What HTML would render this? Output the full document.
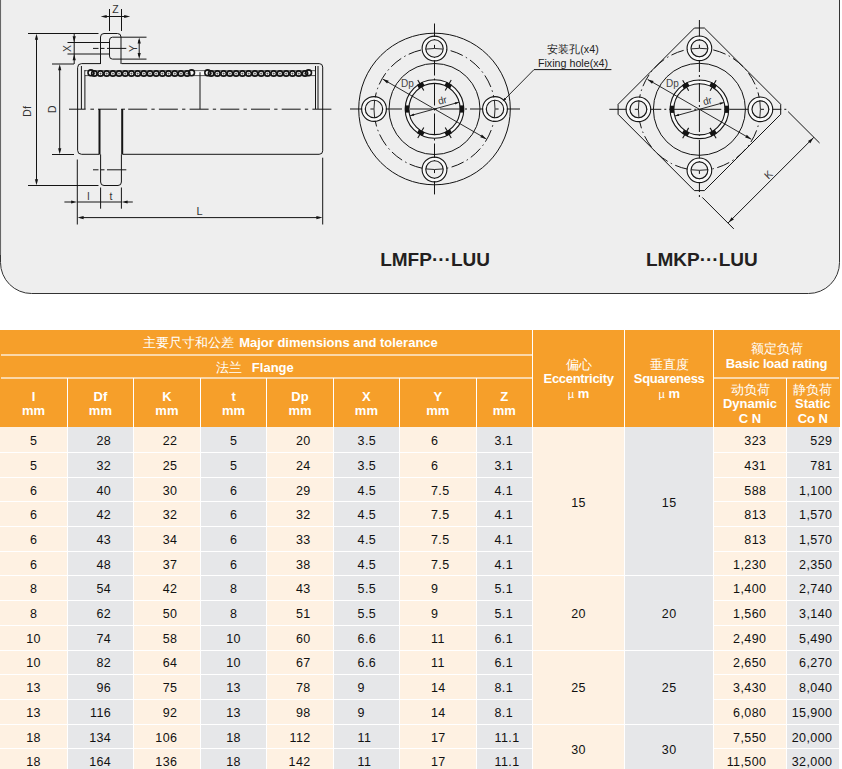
<!DOCTYPE html>
<html><head><meta charset="utf-8">
<style>
html,body{margin:0;padding:0;background:#fff;}
body{width:842px;height:769px;position:relative;overflow:hidden;font-family:"Liberation Sans",sans-serif;}
.b{position:absolute;}
.hl{position:absolute;height:1px;background:#fff;}
.hh{position:absolute;height:1.5px;background:rgba(255,255,255,0.6);}
.vl{position:absolute;width:1px;background:#fff;}
.t{position:absolute;font-size:12.5px;line-height:16px;color:#111;white-space:nowrap;letter-spacing:0.4px;}
.t.c{width:80px;text-align:center;}
.t.r{width:80px;text-align:right;}
.ht{position:absolute;font-size:13px;line-height:16px;color:#fff;font-weight:bold;}
.hc{position:absolute;width:80px;text-align:center;font-size:13px;line-height:14.3px;color:#fff;font-weight:bold;white-space:nowrap;}
.cj{font-weight:normal;font-size:12.9px;}
svg{position:absolute;left:0;top:0;}
</style></head><body>
<svg width="842" height="300" viewBox="0 0 842 300" style="font-family:&quot;Liberation Sans&quot;, sans-serif">
<path d="M0.5,-10 V262.5 A31,31 0 0 0 31.5,293.5 H808.5 A31,31 0 0 0 839.5,262.5 V-10" fill="#EEEEEE" stroke="#333" stroke-width="1"/>
<path d="M0.5,-10 V255" stroke="#666" stroke-width="1.1" fill="none"/>
<path d="M109.50,9.00 L109.50,31.00" stroke="#141414" stroke-width="1" fill="none" />
<path d="M121.50,9.00 L121.50,31.00" stroke="#141414" stroke-width="1" fill="none" />
<path d="M103.00,16.50 L128.00,16.50" stroke="#141414" stroke-width="1" fill="none" />
<path d="M100.70,16.50 L106.70,14.90 L106.70,18.10 Z" fill="#141414" stroke="none"/>
<path d="M130.20,16.50 L124.20,18.10 L124.20,14.90 Z" fill="#141414" stroke="none"/>
<text x="115.50" y="9.20" font-size="10.5" fill="#333" text-anchor="middle" font-weight="normal" dominant-baseline="central">Z</text>
<path d="M28.00,33.50 L98.50,33.50" stroke="#141414" stroke-width="1" fill="none" />
<path d="M28.00,185.50 L98.50,185.50" stroke="#141414" stroke-width="1" fill="none" />
<path d="M36.50,37.00 L36.50,182.00" stroke="#141414" stroke-width="1" fill="none" />
<path d="M36.50,33.80 L38.10,39.80 L34.90,39.80 Z" fill="#141414" stroke="none"/>
<path d="M36.50,185.20 L34.90,179.20 L38.10,179.20 Z" fill="#141414" stroke="none"/>
<text x="26.80" y="111.50" font-size="10.8" fill="#333" text-anchor="middle" font-weight="normal" dominant-baseline="central" transform="rotate(-90 26.80 111.50)">Df</text>
<path d="M52.00,64.00 L74.00,64.00" stroke="#141414" stroke-width="1" fill="none" />
<path d="M52.00,154.50 L74.00,154.50" stroke="#141414" stroke-width="1" fill="none" />
<path d="M59.70,67.00 L59.70,151.00" stroke="#141414" stroke-width="1" fill="none" />
<path d="M59.70,64.30 L61.30,70.30 L58.10,70.30 Z" fill="#141414" stroke="none"/>
<path d="M59.70,154.20 L58.10,148.20 L61.30,148.20 Z" fill="#141414" stroke="none"/>
<text x="52.00" y="109.20" font-size="10.5" fill="#333" text-anchor="middle" font-weight="normal" dominant-baseline="central" transform="rotate(-90 52.00 109.20)">D</text>
<path d="M67.50,42.50 L109.50,42.50" stroke="#141414" stroke-width="1" fill="none" />
<path d="M67.50,54.00 L109.50,54.00" stroke="#141414" stroke-width="1" fill="none" />
<path d="M74.20,33.50 L74.20,64.00" stroke="#141414" stroke-width="1" fill="none" />
<path d="M74.20,42.30 L72.60,36.30 L75.80,36.30 Z" fill="#141414" stroke="none"/>
<path d="M74.20,54.20 L75.80,60.20 L72.60,60.20 Z" fill="#141414" stroke="none"/>
<text x="66.80" y="48.40" font-size="10.5" fill="#333" text-anchor="middle" font-weight="normal" dominant-baseline="central" transform="rotate(-90 66.80 48.40)">X</text>
<path d="M121.00,37.20 L146.50,37.20" stroke="#141414" stroke-width="1" fill="none" />
<path d="M121.00,59.10 L146.50,59.10" stroke="#141414" stroke-width="1" fill="none" />
<path d="M139.20,40.00 L139.20,56.00" stroke="#141414" stroke-width="1" fill="none" />
<path d="M139.20,37.40 L140.80,43.40 L137.60,43.40 Z" fill="#141414" stroke="none"/>
<path d="M139.20,58.90 L137.60,52.90 L140.80,52.90 Z" fill="#141414" stroke="none"/>
<text x="132.80" y="48.40" font-size="10.5" fill="#333" text-anchor="middle" font-weight="normal" dominant-baseline="central" transform="rotate(-90 132.80 48.40)">Y</text>
<path d="M100.5,64 V37 Q100.5,33.5 104,33.5 H117.5 Q121,33.5 121,37 V64" stroke="#141414" stroke-width="1" fill="none"/>
<path d="M121,37.2 H112.5 Q109.5,37.2 109.5,40.2 V56.1 Q109.5,59.1 112.5,59.1 H121" stroke="#141414" stroke-width="1" fill="none"/>
<path d="M93,48.4 H98.5 M101,48.4 H104.5 M107,48.4 H126.3" stroke="#141414" stroke-width="1" fill="none"/>
<path d="M100.6,154.3 V182 Q100.6,185.5 104,185.5 H118 Q121.4,185.5 121.4,182 V154.3" stroke="#141414" stroke-width="1" fill="none"/>
<path d="M99.50,109.00 L99.50,154.30" stroke="#141414" stroke-width="2" fill="none" />
<path d="M122.20,109.00 L122.20,154.30" stroke="#141414" stroke-width="2" fill="none" />
<path d="M93,169.8 H98.5 M101,169.8 H104.5 M107,169.8 H126.3" stroke="#141414" stroke-width="1" fill="none"/>
<path d="M100.5,63.6 H81.6 Q77.6,63.6 77.6,67.6 V150.3 Q77.6,154.3 81.6,154.3 H99.5" stroke="#141414" stroke-width="1" fill="none"/>
<path d="M121.5,63.6 H319.2 Q322.7,63.6 322.7,67.1 V150.8 Q322.7,154.3 319.2,154.3 H122.5" stroke="#141414" stroke-width="1" fill="none"/>
<path d="M81.40,66.00 L81.40,109.00" stroke="#141414" stroke-width="1" fill="none" />
<path d="M84.90,70.00 L84.90,109.00" stroke="#141414" stroke-width="1" fill="none" />
<path d="M315.50,66.00 L315.50,109.00" stroke="#141414" stroke-width="1" fill="none" />
<path d="M318.00,66.00 L318.00,109.00" stroke="#141414" stroke-width="1" fill="none" />
<path d="M69,109.2 H85.7 M90.4,109.2 H94 M98,109.2 H117 M121.3,109.2 H125 M128.2,109.2 H331.6" stroke="#141414" stroke-width="1" fill="none" stroke-dasharray="19 4.2 3.3 4.2"/>
<path d="M84.9,70.8 H315 M84.9,75.6 H315" stroke="#141414" stroke-width="0.8" fill="none"/>
<rect x="85.5" y="71.3" width="229" height="3.8" fill="#f8f8f8"/>
<path d="M200.00,72.20 L200.00,109.20" stroke="#141414" stroke-width="1" fill="none" />
<circle cx="94.30" cy="73.60" r="2.70" stroke="#141414" stroke-width="1.6" fill="none" />
<path d="M93.10,73.60 H95.50 M94.30,72.40 V74.80" stroke="#141414" stroke-width="0.5"/>
<circle cx="100.49" cy="73.60" r="2.70" stroke="#141414" stroke-width="1.6" fill="none" />
<path d="M99.29,73.60 H101.69 M100.49,72.40 V74.80" stroke="#141414" stroke-width="0.5"/>
<circle cx="106.68" cy="73.60" r="2.70" stroke="#141414" stroke-width="1.6" fill="none" />
<path d="M105.48,73.60 H107.88 M106.68,72.40 V74.80" stroke="#141414" stroke-width="0.5"/>
<circle cx="112.87" cy="73.60" r="2.70" stroke="#141414" stroke-width="1.6" fill="none" />
<path d="M111.67,73.60 H114.07 M112.87,72.40 V74.80" stroke="#141414" stroke-width="0.5"/>
<circle cx="119.06" cy="73.60" r="2.70" stroke="#141414" stroke-width="1.6" fill="none" />
<path d="M117.86,73.60 H120.26 M119.06,72.40 V74.80" stroke="#141414" stroke-width="0.5"/>
<circle cx="125.25" cy="73.60" r="2.70" stroke="#141414" stroke-width="1.6" fill="none" />
<path d="M124.05,73.60 H126.45 M125.25,72.40 V74.80" stroke="#141414" stroke-width="0.5"/>
<circle cx="131.44" cy="73.60" r="2.70" stroke="#141414" stroke-width="1.6" fill="none" />
<path d="M130.24,73.60 H132.64 M131.44,72.40 V74.80" stroke="#141414" stroke-width="0.5"/>
<circle cx="137.63" cy="73.60" r="2.70" stroke="#141414" stroke-width="1.6" fill="none" />
<path d="M136.43,73.60 H138.83 M137.63,72.40 V74.80" stroke="#141414" stroke-width="0.5"/>
<circle cx="143.82" cy="73.60" r="2.70" stroke="#141414" stroke-width="1.6" fill="none" />
<path d="M142.62,73.60 H145.02 M143.82,72.40 V74.80" stroke="#141414" stroke-width="0.5"/>
<circle cx="150.01" cy="73.60" r="2.70" stroke="#141414" stroke-width="1.6" fill="none" />
<path d="M148.81,73.60 H151.21 M150.01,72.40 V74.80" stroke="#141414" stroke-width="0.5"/>
<circle cx="156.20" cy="73.60" r="2.70" stroke="#141414" stroke-width="1.6" fill="none" />
<path d="M155.00,73.60 H157.40 M156.20,72.40 V74.80" stroke="#141414" stroke-width="0.5"/>
<circle cx="162.39" cy="73.60" r="2.70" stroke="#141414" stroke-width="1.6" fill="none" />
<path d="M161.19,73.60 H163.59 M162.39,72.40 V74.80" stroke="#141414" stroke-width="0.5"/>
<circle cx="168.58" cy="73.60" r="2.70" stroke="#141414" stroke-width="1.6" fill="none" />
<path d="M167.38,73.60 H169.78 M168.58,72.40 V74.80" stroke="#141414" stroke-width="0.5"/>
<circle cx="174.77" cy="73.60" r="2.70" stroke="#141414" stroke-width="1.6" fill="none" />
<path d="M173.57,73.60 H175.97 M174.77,72.40 V74.80" stroke="#141414" stroke-width="0.5"/>
<circle cx="180.96" cy="73.60" r="2.70" stroke="#141414" stroke-width="1.6" fill="none" />
<path d="M179.76,73.60 H182.16 M180.96,72.40 V74.80" stroke="#141414" stroke-width="0.5"/>
<circle cx="187.15" cy="73.60" r="2.70" stroke="#141414" stroke-width="1.6" fill="none" />
<path d="M185.95,73.60 H188.35 M187.15,72.40 V74.80" stroke="#141414" stroke-width="0.5"/>
<circle cx="90.90" cy="72.80" r="2.90" stroke="#141414" stroke-width="1.6" fill="none" />
<circle cx="191.60" cy="72.80" r="2.90" stroke="#141414" stroke-width="1.6" fill="none" />
<circle cx="211.10" cy="73.60" r="2.70" stroke="#141414" stroke-width="1.6" fill="none" />
<path d="M209.90,73.60 H212.30 M211.10,72.40 V74.80" stroke="#141414" stroke-width="0.5"/>
<circle cx="217.36" cy="73.60" r="2.70" stroke="#141414" stroke-width="1.6" fill="none" />
<path d="M216.16,73.60 H218.56 M217.36,72.40 V74.80" stroke="#141414" stroke-width="0.5"/>
<circle cx="223.62" cy="73.60" r="2.70" stroke="#141414" stroke-width="1.6" fill="none" />
<path d="M222.42,73.60 H224.82 M223.62,72.40 V74.80" stroke="#141414" stroke-width="0.5"/>
<circle cx="229.88" cy="73.60" r="2.70" stroke="#141414" stroke-width="1.6" fill="none" />
<path d="M228.68,73.60 H231.08 M229.88,72.40 V74.80" stroke="#141414" stroke-width="0.5"/>
<circle cx="236.14" cy="73.60" r="2.70" stroke="#141414" stroke-width="1.6" fill="none" />
<path d="M234.94,73.60 H237.34 M236.14,72.40 V74.80" stroke="#141414" stroke-width="0.5"/>
<circle cx="242.40" cy="73.60" r="2.70" stroke="#141414" stroke-width="1.6" fill="none" />
<path d="M241.20,73.60 H243.60 M242.40,72.40 V74.80" stroke="#141414" stroke-width="0.5"/>
<circle cx="248.66" cy="73.60" r="2.70" stroke="#141414" stroke-width="1.6" fill="none" />
<path d="M247.46,73.60 H249.86 M248.66,72.40 V74.80" stroke="#141414" stroke-width="0.5"/>
<circle cx="254.92" cy="73.60" r="2.70" stroke="#141414" stroke-width="1.6" fill="none" />
<path d="M253.72,73.60 H256.12 M254.92,72.40 V74.80" stroke="#141414" stroke-width="0.5"/>
<circle cx="261.18" cy="73.60" r="2.70" stroke="#141414" stroke-width="1.6" fill="none" />
<path d="M259.98,73.60 H262.38 M261.18,72.40 V74.80" stroke="#141414" stroke-width="0.5"/>
<circle cx="267.44" cy="73.60" r="2.70" stroke="#141414" stroke-width="1.6" fill="none" />
<path d="M266.24,73.60 H268.64 M267.44,72.40 V74.80" stroke="#141414" stroke-width="0.5"/>
<circle cx="273.70" cy="73.60" r="2.70" stroke="#141414" stroke-width="1.6" fill="none" />
<path d="M272.50,73.60 H274.90 M273.70,72.40 V74.80" stroke="#141414" stroke-width="0.5"/>
<circle cx="279.96" cy="73.60" r="2.70" stroke="#141414" stroke-width="1.6" fill="none" />
<path d="M278.76,73.60 H281.16 M279.96,72.40 V74.80" stroke="#141414" stroke-width="0.5"/>
<circle cx="286.22" cy="73.60" r="2.70" stroke="#141414" stroke-width="1.6" fill="none" />
<path d="M285.02,73.60 H287.42 M286.22,72.40 V74.80" stroke="#141414" stroke-width="0.5"/>
<circle cx="292.48" cy="73.60" r="2.70" stroke="#141414" stroke-width="1.6" fill="none" />
<path d="M291.28,73.60 H293.68 M292.48,72.40 V74.80" stroke="#141414" stroke-width="0.5"/>
<circle cx="298.74" cy="73.60" r="2.70" stroke="#141414" stroke-width="1.6" fill="none" />
<path d="M297.54,73.60 H299.94 M298.74,72.40 V74.80" stroke="#141414" stroke-width="0.5"/>
<circle cx="305.00" cy="73.60" r="2.70" stroke="#141414" stroke-width="1.6" fill="none" />
<path d="M303.80,73.60 H306.20 M305.00,72.40 V74.80" stroke="#141414" stroke-width="0.5"/>
<circle cx="207.70" cy="72.80" r="2.90" stroke="#141414" stroke-width="1.6" fill="none" />
<circle cx="308.60" cy="72.80" r="2.90" stroke="#141414" stroke-width="1.6" fill="none" />
<path d="M77.30,159.50 L77.30,224.50" stroke="#141414" stroke-width="1" fill="none" />
<path d="M322.70,157.70 L322.70,224.50" stroke="#141414" stroke-width="1" fill="none" />
<path d="M80.00,217.60 L320.00,217.60" stroke="#141414" stroke-width="1" fill="none" />
<path d="M77.60,217.60 L83.60,216.00 L83.60,219.20 Z" fill="#141414" stroke="none"/>
<path d="M322.40,217.60 L316.40,219.20 L316.40,216.00 Z" fill="#141414" stroke="none"/>
<text x="199.50" y="210.80" font-size="11" fill="#333" text-anchor="middle" font-weight="normal" dominant-baseline="central">L</text>
<path d="M64.40,202.00 L73.00,202.00" stroke="#141414" stroke-width="1" fill="none" />
<path d="M125.50,202.00 L132.80,202.00" stroke="#141414" stroke-width="1" fill="none" />
<path d="M77.30,202.00 L121.40,202.00" stroke="#141414" stroke-width="1" fill="none" />
<path d="M77.10,202.00 L71.10,203.60 L71.10,200.40 Z" fill="#141414" stroke="none"/>
<path d="M121.60,202.00 L127.60,200.40 L127.60,203.60 Z" fill="#141414" stroke="none"/>
<path d="M100.60,187.50 L100.60,208.70" stroke="#141414" stroke-width="1" fill="none" />
<path d="M121.40,187.50 L121.40,208.70" stroke="#141414" stroke-width="1" fill="none" />
<text x="88.50" y="196.00" font-size="10.5" fill="#333" text-anchor="middle" font-weight="normal" dominant-baseline="central">l</text>
<text x="111.00" y="196.00" font-size="10.5" fill="#333" text-anchor="middle" font-weight="normal" dominant-baseline="central">t</text>
<circle cx="434.50" cy="109.00" r="75.80" stroke="#141414" stroke-width="1" fill="none" />
<circle cx="434.50" cy="109.00" r="60.50" stroke="#141414" stroke-width="1" fill="none" stroke-dasharray="13 3.5 1.5 3.5"/>
<circle cx="434.50" cy="109.00" r="45.50" stroke="#141414" stroke-width="1" fill="none" />
<path d="M350,109.0 H520" stroke="#141414" stroke-width="1" stroke-dasharray="22 3 2 3" stroke-dashoffset="0"/>
<path d="M434.5,23.5 V194.4" stroke="#141414" stroke-width="1" stroke-dasharray="22 3 2 3"/>
<circle cx="434.50" cy="48.50" r="8.40" fill="#EEEEEE" stroke="none"/>
<circle cx="434.50" cy="48.50" r="10.55" stroke="#FAFAFA" stroke-width="2.60" fill="none"/>
<circle cx="434.50" cy="48.50" r="12.40" stroke="#141414" stroke-width="1.1" fill="none" />
<circle cx="434.50" cy="48.50" r="8.70" stroke="#141414" stroke-width="1.1" fill="none" />
<path d="M442.80,49.07 A60.5,60.5 0 0 0 426.20,49.07" stroke="#141414" stroke-width="0.9" fill="none"/>
<path d="M434.50,48.20 L434.50,44.90" stroke="#141414" stroke-width="1" fill="none" />
<circle cx="434.50" cy="169.50" r="8.40" fill="#EEEEEE" stroke="none"/>
<circle cx="434.50" cy="169.50" r="10.55" stroke="#FAFAFA" stroke-width="2.60" fill="none"/>
<circle cx="434.50" cy="169.50" r="12.40" stroke="#141414" stroke-width="1.1" fill="none" />
<circle cx="434.50" cy="169.50" r="8.70" stroke="#141414" stroke-width="1.1" fill="none" />
<path d="M426.20,168.93 A60.5,60.5 0 0 0 442.80,168.93" stroke="#141414" stroke-width="0.9" fill="none"/>
<path d="M434.50,169.80 L434.50,173.10" stroke="#141414" stroke-width="1" fill="none" />
<circle cx="374.00" cy="109.00" r="8.40" fill="#EEEEEE" stroke="none"/>
<circle cx="374.00" cy="109.00" r="10.55" stroke="#FAFAFA" stroke-width="2.60" fill="none"/>
<circle cx="374.00" cy="109.00" r="12.40" stroke="#141414" stroke-width="1.1" fill="none" />
<circle cx="374.00" cy="109.00" r="8.70" stroke="#141414" stroke-width="1.1" fill="none" />
<path d="M374.57,100.70 A60.5,60.5 0 0 0 374.57,117.30" stroke="#141414" stroke-width="0.9" fill="none"/>
<path d="M373.70,109.00 L370.40,109.00" stroke="#141414" stroke-width="1" fill="none" />
<circle cx="495.00" cy="109.00" r="8.40" fill="#EEEEEE" stroke="none"/>
<circle cx="495.00" cy="109.00" r="10.55" stroke="#FAFAFA" stroke-width="2.60" fill="none"/>
<circle cx="495.00" cy="109.00" r="12.40" stroke="#141414" stroke-width="1.1" fill="none" />
<circle cx="495.00" cy="109.00" r="8.70" stroke="#141414" stroke-width="1.1" fill="none" />
<path d="M494.43,117.30 A60.5,60.5 0 0 0 494.43,100.70" stroke="#141414" stroke-width="0.9" fill="none"/>
<path d="M495.30,109.00 L498.60,109.00" stroke="#141414" stroke-width="1" fill="none" />
<circle cx="434.50" cy="109.00" r="27.45" stroke="#FAFAFA" stroke-width="2.2" fill="none"/>
<circle cx="434.50" cy="109.00" r="29.30" stroke="#141414" stroke-width="1.1" fill="none" />
<circle cx="434.50" cy="109.00" r="25.60" stroke="#141414" stroke-width="1.1" fill="none" />
<rect x="445.03" y="83.13" width="6.4" height="4.2" fill="#141414" transform="rotate(30.0 448.23 85.23)"/>
<path d="M445.23,90.42 L451.23,80.03" stroke="#141414" stroke-width="1.1" fill="none" />
<rect x="417.57" y="83.13" width="6.4" height="4.2" fill="#141414" transform="rotate(-30.0 420.77 85.23)"/>
<path d="M423.77,90.42 L417.77,80.03" stroke="#141414" stroke-width="1.1" fill="none" />
<rect x="417.57" y="130.67" width="6.4" height="4.2" fill="#141414" transform="rotate(-150.0 420.77 132.77)"/>
<path d="M423.77,127.58 L417.77,137.97" stroke="#141414" stroke-width="1.1" fill="none" />
<rect x="445.03" y="130.67" width="6.4" height="4.2" fill="#141414" transform="rotate(-210.0 448.23 132.77)"/>
<path d="M445.23,127.58 L451.23,137.97" stroke="#141414" stroke-width="1.1" fill="none" />
<rect x="459.85" y="105.40" width="4.2" height="7.2" fill="#141414"/>
<rect x="404.95" y="105.40" width="4.2" height="7.2" fill="#141414"/>
<path d="M382.71,79.10 L486.29,138.90" stroke="#141414" stroke-width="0.9" fill="none" />
<path d="M382.71,79.10 L388.71,80.71 L387.11,83.49 Z" fill="#141414" stroke="none"/>
<path d="M486.29,138.90 L480.29,137.29 L481.89,134.51 Z" fill="#141414" stroke="none"/>
<text x="407.50" y="83.30" font-size="10" fill="#444" text-anchor="middle" font-weight="normal" dominant-baseline="central">Dp</text>
<path d="M410.11,115.72 L458.89,102.28" stroke="#141414" stroke-width="0.9" fill="none" />
<path d="M410.11,115.72 L413.65,113.50 L414.28,115.81 Z" fill="#141414" stroke="none"/>
<path d="M458.89,102.28 L455.35,104.50 L454.72,102.19 Z" fill="#141414" stroke="none"/>
<text x="442.30" y="100.30" font-size="10" fill="#333" text-anchor="middle" font-weight="normal" dominant-baseline="central" transform="rotate(-15 442.30 100.30)">dr</text>
<path d="M534.00,69.60 L611.40,69.60" stroke="#141414" stroke-width="1" fill="none" />
<path d="M534.00,69.60 L504.00,100.00" stroke="#141414" stroke-width="0.9" fill="none" />
<path d="M502.50,101.50 L504.48,97.82 L506.18,99.52 Z" fill="#141414" stroke="none"/>
<text x="573.00" y="49.00" font-size="10.7" fill="#222" text-anchor="middle" font-weight="normal" dominant-baseline="central">安装孔(x4)</text>
<text x="573.00" y="62.50" font-size="10.7" fill="#222" text-anchor="middle" font-weight="normal" dominant-baseline="central">Fixing hole(x4)</text>
<path d="M694.40,28.00 L704.40,28.00 L780.70,104.30 L780.70,114.30 L704.40,190.60 L694.40,190.60 L618.10,114.30 L618.10,104.30 Z" stroke="#141414" stroke-width="1" fill="none"/>
<circle cx="699.40" cy="109.30" r="61.00" stroke="#141414" stroke-width="1" fill="none" stroke-dasharray="13 3.5 1.5 3.5"/>
<circle cx="699.40" cy="109.30" r="46.00" stroke="#141414" stroke-width="1" fill="none" />
<path d="M609.3,109.3 H788" stroke="#141414" stroke-width="1" stroke-dasharray="22 3 2 3"/>
<path d="M699.4,20 V197.4" stroke="#141414" stroke-width="1" stroke-dasharray="22 3 2 3"/>
<circle cx="699.40" cy="48.30" r="8.10" fill="#EEEEEE" stroke="none"/>
<circle cx="699.40" cy="48.30" r="10.38" stroke="#FAFAFA" stroke-width="2.85" fill="none"/>
<circle cx="699.40" cy="48.30" r="12.35" stroke="#141414" stroke-width="1.1" fill="none" />
<circle cx="699.40" cy="48.30" r="8.40" stroke="#141414" stroke-width="1.1" fill="none" />
<path d="M707.40,48.83 A61.0,61.0 0 0 0 691.40,48.83" stroke="#141414" stroke-width="0.9" fill="none"/>
<path d="M699.40,48.00 L699.40,44.70" stroke="#141414" stroke-width="1" fill="none" />
<circle cx="699.40" cy="170.30" r="8.10" fill="#EEEEEE" stroke="none"/>
<circle cx="699.40" cy="170.30" r="10.38" stroke="#FAFAFA" stroke-width="2.85" fill="none"/>
<circle cx="699.40" cy="170.30" r="12.35" stroke="#141414" stroke-width="1.1" fill="none" />
<circle cx="699.40" cy="170.30" r="8.40" stroke="#141414" stroke-width="1.1" fill="none" />
<path d="M691.40,169.77 A61.0,61.0 0 0 0 707.40,169.77" stroke="#141414" stroke-width="0.9" fill="none"/>
<path d="M699.40,170.60 L699.40,173.90" stroke="#141414" stroke-width="1" fill="none" />
<circle cx="638.40" cy="109.30" r="8.10" fill="#EEEEEE" stroke="none"/>
<circle cx="638.40" cy="109.30" r="10.38" stroke="#FAFAFA" stroke-width="2.85" fill="none"/>
<circle cx="638.40" cy="109.30" r="12.35" stroke="#141414" stroke-width="1.1" fill="none" />
<circle cx="638.40" cy="109.30" r="8.40" stroke="#141414" stroke-width="1.1" fill="none" />
<path d="M638.93,101.30 A61.0,61.0 0 0 0 638.93,117.30" stroke="#141414" stroke-width="0.9" fill="none"/>
<path d="M638.10,109.30 L634.80,109.30" stroke="#141414" stroke-width="1" fill="none" />
<circle cx="760.40" cy="109.30" r="8.10" fill="#EEEEEE" stroke="none"/>
<circle cx="760.40" cy="109.30" r="10.38" stroke="#FAFAFA" stroke-width="2.85" fill="none"/>
<circle cx="760.40" cy="109.30" r="12.35" stroke="#141414" stroke-width="1.1" fill="none" />
<circle cx="760.40" cy="109.30" r="8.40" stroke="#141414" stroke-width="1.1" fill="none" />
<path d="M759.87,117.30 A61.0,61.0 0 0 0 759.87,101.30" stroke="#141414" stroke-width="0.9" fill="none"/>
<path d="M760.70,109.30 L764.00,109.30" stroke="#141414" stroke-width="1" fill="none" />
<circle cx="699.40" cy="109.30" r="27.45" stroke="#FAFAFA" stroke-width="2.2" fill="none"/>
<circle cx="699.40" cy="109.30" r="29.30" stroke="#141414" stroke-width="1.1" fill="none" />
<circle cx="699.40" cy="109.30" r="25.60" stroke="#141414" stroke-width="1.1" fill="none" />
<rect x="709.92" y="83.43" width="6.4" height="4.2" fill="#141414" transform="rotate(30.0 713.12 85.53)"/>
<path d="M710.12,90.72 L716.12,80.33" stroke="#141414" stroke-width="1.1" fill="none" />
<rect x="682.47" y="83.43" width="6.4" height="4.2" fill="#141414" transform="rotate(-30.0 685.67 85.53)"/>
<path d="M688.67,90.72 L682.67,80.33" stroke="#141414" stroke-width="1.1" fill="none" />
<rect x="682.47" y="130.97" width="6.4" height="4.2" fill="#141414" transform="rotate(-150.0 685.67 133.07)"/>
<path d="M688.67,127.88 L682.67,138.27" stroke="#141414" stroke-width="1.1" fill="none" />
<rect x="709.92" y="130.97" width="6.4" height="4.2" fill="#141414" transform="rotate(-210.0 713.12 133.07)"/>
<path d="M710.12,127.88 L716.12,138.27" stroke="#141414" stroke-width="1.1" fill="none" />
<rect x="724.75" y="105.70" width="4.2" height="7.2" fill="#141414"/>
<rect x="669.85" y="105.70" width="4.2" height="7.2" fill="#141414"/>
<path d="M647.61,79.40 L751.19,139.20" stroke="#141414" stroke-width="0.9" fill="none" />
<path d="M647.61,79.40 L653.61,81.01 L652.01,83.79 Z" fill="#141414" stroke="none"/>
<path d="M751.19,139.20 L745.19,137.59 L746.79,134.81 Z" fill="#141414" stroke="none"/>
<text x="672.50" y="83.80" font-size="10" fill="#444" text-anchor="middle" font-weight="normal" dominant-baseline="central">Dp</text>
<path d="M675.01,116.02 L723.79,102.58" stroke="#141414" stroke-width="0.9" fill="none" />
<path d="M675.01,116.02 L678.55,113.80 L679.18,116.11 Z" fill="#141414" stroke="none"/>
<path d="M723.79,102.58 L720.25,104.80 L719.62,102.49 Z" fill="#141414" stroke="none"/>
<text x="707.40" y="100.80" font-size="10" fill="#333" text-anchor="middle" font-weight="normal" dominant-baseline="central" transform="rotate(-15 707.40 100.80)">dr</text>
<path d="M788.10,111.60 L819.60,143.00" stroke="#141414" stroke-width="1" fill="none" />
<path d="M702.30,197.40 L733.80,228.90" stroke="#141414" stroke-width="1" fill="none" />
<path d="M728.00,223.10 L813.90,137.30" stroke="#141414" stroke-width="1" fill="none" />
<path d="M728.50,222.60 L731.61,217.23 L733.87,219.49 Z" fill="#141414" stroke="none"/>
<path d="M813.40,137.80 L810.29,143.17 L808.03,140.91 Z" fill="#141414" stroke="none"/>
<text x="768.10" y="174.50" font-size="10.5" fill="#333" text-anchor="middle" font-weight="normal" dominant-baseline="central" transform="rotate(-45 768.10 174.50)">K</text>
<text x="380.2" y="266.1" font-size="19" font-weight="bold" fill="#231F20">LMFP···LUU</text>
<text x="645.9" y="266.1" font-size="19" font-weight="bold" fill="#231F20">LMKP···LUU</text>
</svg>
<div class="b" style="left:0;top:330px;width:840px;height:97.2px;background:#F69F2A"></div>
<div class="hh" style="left:1px;top:354.05px;width:531.5px"></div>
<div class="hh" style="left:1px;top:377.15px;width:531.5px"></div>
<div class="hh" style="left:713.7px;top:377.15px;width:125.6px"></div>
<div class="vl" style="left:66.80px;top:377.9px;height:49.3px"></div>
<div class="vl" style="left:133.00px;top:377.9px;height:49.3px"></div>
<div class="vl" style="left:199.80px;top:377.9px;height:49.3px"></div>
<div class="vl" style="left:266.40px;top:377.9px;height:49.3px"></div>
<div class="vl" style="left:332.70px;top:377.9px;height:49.3px"></div>
<div class="vl" style="left:399.10px;top:377.9px;height:49.3px"></div>
<div class="vl" style="left:475.50px;top:377.9px;height:49.3px"></div>
<div class="vl" style="left:532.00px;top:330px;height:97.2px"></div>
<div class="vl" style="left:624.30px;top:330px;height:97.2px"></div>
<div class="vl" style="left:713.20px;top:330px;height:97.2px"></div>
<div class="vl" style="left:785.70px;top:377.9px;height:49.3px"></div>
<div class="ht" style="left:143px;top:335px;white-space:nowrap"><span class="cj">主要尺寸和公差</span><span style="margin-left:1.5px"> </span>Major dimensions and tolerance</div>
<div class="ht" style="left:216px;top:360px;white-space:nowrap"><span class="cj">法兰</span>&nbsp;&nbsp;<span style="margin-left:-1px"> </span>Flange</div>
<div class="hc" style="left:-6.4px;top:389.8px;line-height:14.5px">I<br>mm</div>
<div class="hc" style="left:60.4px;top:389.8px;line-height:14.5px">Df<br>mm</div>
<div class="hc" style="left:126.9px;top:389.8px;line-height:14.5px">K<br>mm</div>
<div class="hc" style="left:193.6px;top:389.8px;line-height:14.5px">t<br>mm</div>
<div class="hc" style="left:260.0px;top:389.8px;line-height:14.5px">Dp<br>mm</div>
<div class="hc" style="left:326.4px;top:389.8px;line-height:14.5px">X<br>mm</div>
<div class="hc" style="left:397.8px;top:389.8px;line-height:14.5px">Y<br>mm</div>
<div class="hc" style="left:464.2px;top:389.8px;line-height:14.5px">Z<br>mm</div>
<div class="hc" style="left:532.6px;width:92px;top:357.8px;line-height:14.5px"><span class="cj">偏心</span><br><span style="letter-spacing:-0.3px">Eccentricity</span><br><span style="font-weight:normal;font-size:11px">&micro;</span> m</div>
<div class="hc" style="left:623.2px;width:92px;top:357.8px;line-height:14.5px"><span class="cj">垂直度</span><br><span style="letter-spacing:-0.3px">Squareness</span><br><span style="font-weight:normal;font-size:11px">&micro;</span> m</div>
<div class="hc" style="left:716.5px;width:120px;top:341.3px;line-height:15px"><span class="cj">额定负荷</span><br><span style="letter-spacing:-0.2px">Basic load rating</span></div>
<div class="hc" style="left:710.0px;top:382.5px;line-height:14.6px"><span class="cj">动负荷</span><br>Dynamic<br>C N</div>
<div class="hc" style="left:772.8px;top:382.5px;line-height:14.6px"><span class="cj">静负荷</span><br>Static<br>Co N</div>
<div class="b" style="left:0.0px;top:427.2px;width:67.3px;height:341.8px;background:#FEF1E2"></div>
<div class="b" style="left:67.3px;top:427.2px;width:66.2px;height:341.8px;background:#E6E7E9"></div>
<div class="b" style="left:133.5px;top:427.2px;width:66.8px;height:341.8px;background:#FEF1E2"></div>
<div class="b" style="left:200.3px;top:427.2px;width:66.6px;height:341.8px;background:#E6E7E9"></div>
<div class="b" style="left:266.9px;top:427.2px;width:66.3px;height:341.8px;background:#FEF1E2"></div>
<div class="b" style="left:333.2px;top:427.2px;width:66.4px;height:341.8px;background:#E6E7E9"></div>
<div class="b" style="left:399.6px;top:427.2px;width:76.4px;height:341.8px;background:#FEF1E2"></div>
<div class="b" style="left:476.0px;top:427.2px;width:56.5px;height:341.8px;background:#E6E7E9"></div>
<div class="b" style="left:532.5px;top:427.2px;width:92.3px;height:341.8px;background:#FEF1E2"></div>
<div class="b" style="left:624.8px;top:427.2px;width:88.9px;height:341.8px;background:#E6E7E9"></div>
<div class="b" style="left:713.7px;top:427.2px;width:72.5px;height:341.8px;background:#FEF1E2"></div>
<div class="b" style="left:786.2px;top:427.2px;width:53.1px;height:341.8px;background:#E6E7E9"></div>
<div class="hl" style="left:0.0px;top:451.91px;width:532.5px"></div>
<div class="hl" style="left:713.7px;top:451.91px;width:125.6px"></div>
<div class="hl" style="left:0.0px;top:476.62px;width:532.5px"></div>
<div class="hl" style="left:713.7px;top:476.62px;width:125.6px"></div>
<div class="hl" style="left:0.0px;top:501.33px;width:532.5px"></div>
<div class="hl" style="left:713.7px;top:501.33px;width:125.6px"></div>
<div class="hl" style="left:0.0px;top:526.04px;width:532.5px"></div>
<div class="hl" style="left:713.7px;top:526.04px;width:125.6px"></div>
<div class="hl" style="left:0.0px;top:550.75px;width:532.5px"></div>
<div class="hl" style="left:713.7px;top:550.75px;width:125.6px"></div>
<div class="hl" style="left:0.0px;top:575.46px;width:839.3px"></div>
<div class="hl" style="left:0.0px;top:600.17px;width:532.5px"></div>
<div class="hl" style="left:713.7px;top:600.17px;width:125.6px"></div>
<div class="hl" style="left:0.0px;top:624.88px;width:532.5px"></div>
<div class="hl" style="left:713.7px;top:624.88px;width:125.6px"></div>
<div class="hl" style="left:0.0px;top:649.59px;width:839.3px"></div>
<div class="hl" style="left:0.0px;top:674.30px;width:532.5px"></div>
<div class="hl" style="left:713.7px;top:674.30px;width:125.6px"></div>
<div class="hl" style="left:0.0px;top:699.01px;width:532.5px"></div>
<div class="hl" style="left:713.7px;top:699.01px;width:125.6px"></div>
<div class="hl" style="left:0.0px;top:723.72px;width:839.3px"></div>
<div class="hl" style="left:0.0px;top:748.43px;width:532.5px"></div>
<div class="hl" style="left:713.7px;top:748.43px;width:125.6px"></div>
<div class="vl" style="left:66.80px;top:427.2px;height:341.8px"></div>
<div class="vl" style="left:133.00px;top:427.2px;height:341.8px"></div>
<div class="vl" style="left:199.80px;top:427.2px;height:341.8px"></div>
<div class="vl" style="left:266.40px;top:427.2px;height:341.8px"></div>
<div class="vl" style="left:332.70px;top:427.2px;height:341.8px"></div>
<div class="vl" style="left:399.10px;top:427.2px;height:341.8px"></div>
<div class="vl" style="left:475.50px;top:427.2px;height:341.8px"></div>
<div class="vl" style="left:532.00px;top:427.2px;height:341.8px"></div>
<div class="vl" style="left:624.30px;top:427.2px;height:341.8px"></div>
<div class="vl" style="left:713.20px;top:427.2px;height:341.8px"></div>
<div class="vl" style="left:785.70px;top:427.2px;height:341.8px"></div>
<div class="t c" style="left:-6.4px;top:433.1px">5</div>
<div class="t r" style="left:31.2px;top:433.1px">28</div>
<div class="t r" style="left:97.4px;top:433.1px">22</div>
<div class="t c" style="left:193.6px;top:433.1px">5</div>
<div class="t r" style="left:230.6px;top:433.1px">20</div>
<div class="t l" style="left:357.6px;top:433.1px">3.5</div>
<div class="t l" style="left:431.0px;top:433.1px">6</div>
<div class="t l" style="left:494.5px;top:433.1px">3.1</div>
<div class="t r" style="left:686.4px;top:433.1px">323</div>
<div class="t r" style="left:752.4px;top:433.1px">529</div>
<div class="t c" style="left:-6.4px;top:457.8px">5</div>
<div class="t r" style="left:31.2px;top:457.8px">32</div>
<div class="t r" style="left:97.4px;top:457.8px">25</div>
<div class="t c" style="left:193.6px;top:457.8px">5</div>
<div class="t r" style="left:230.6px;top:457.8px">24</div>
<div class="t l" style="left:357.6px;top:457.8px">3.5</div>
<div class="t l" style="left:431.0px;top:457.8px">6</div>
<div class="t l" style="left:494.5px;top:457.8px">3.1</div>
<div class="t r" style="left:686.4px;top:457.8px">431</div>
<div class="t r" style="left:752.4px;top:457.8px">781</div>
<div class="t c" style="left:-6.4px;top:482.5px">6</div>
<div class="t r" style="left:31.2px;top:482.5px">40</div>
<div class="t r" style="left:97.4px;top:482.5px">30</div>
<div class="t c" style="left:193.6px;top:482.5px">6</div>
<div class="t r" style="left:230.6px;top:482.5px">29</div>
<div class="t l" style="left:357.6px;top:482.5px">4.5</div>
<div class="t l" style="left:431.0px;top:482.5px">7.5</div>
<div class="t l" style="left:494.5px;top:482.5px">4.1</div>
<div class="t r" style="left:686.4px;top:482.5px">588</div>
<div class="t r" style="left:752.4px;top:482.5px">1,100</div>
<div class="t c" style="left:-6.4px;top:507.2px">6</div>
<div class="t r" style="left:31.2px;top:507.2px">42</div>
<div class="t r" style="left:97.4px;top:507.2px">32</div>
<div class="t c" style="left:193.6px;top:507.2px">6</div>
<div class="t r" style="left:230.6px;top:507.2px">32</div>
<div class="t l" style="left:357.6px;top:507.2px">4.5</div>
<div class="t l" style="left:431.0px;top:507.2px">7.5</div>
<div class="t l" style="left:494.5px;top:507.2px">4.1</div>
<div class="t r" style="left:686.4px;top:507.2px">813</div>
<div class="t r" style="left:752.4px;top:507.2px">1,570</div>
<div class="t c" style="left:-6.4px;top:531.9px">6</div>
<div class="t r" style="left:31.2px;top:531.9px">43</div>
<div class="t r" style="left:97.4px;top:531.9px">34</div>
<div class="t c" style="left:193.6px;top:531.9px">6</div>
<div class="t r" style="left:230.6px;top:531.9px">33</div>
<div class="t l" style="left:357.6px;top:531.9px">4.5</div>
<div class="t l" style="left:431.0px;top:531.9px">7.5</div>
<div class="t l" style="left:494.5px;top:531.9px">4.1</div>
<div class="t r" style="left:686.4px;top:531.9px">813</div>
<div class="t r" style="left:752.4px;top:531.9px">1,570</div>
<div class="t c" style="left:-6.4px;top:556.6px">6</div>
<div class="t r" style="left:31.2px;top:556.6px">48</div>
<div class="t r" style="left:97.4px;top:556.6px">37</div>
<div class="t c" style="left:193.6px;top:556.6px">6</div>
<div class="t r" style="left:230.6px;top:556.6px">38</div>
<div class="t l" style="left:357.6px;top:556.6px">4.5</div>
<div class="t l" style="left:431.0px;top:556.6px">7.5</div>
<div class="t l" style="left:494.5px;top:556.6px">4.1</div>
<div class="t r" style="left:686.4px;top:556.6px">1,230</div>
<div class="t r" style="left:752.4px;top:556.6px">2,350</div>
<div class="t c" style="left:-6.4px;top:581.3px">8</div>
<div class="t r" style="left:31.2px;top:581.3px">54</div>
<div class="t r" style="left:97.4px;top:581.3px">42</div>
<div class="t c" style="left:193.6px;top:581.3px">8</div>
<div class="t r" style="left:230.6px;top:581.3px">43</div>
<div class="t l" style="left:357.6px;top:581.3px">5.5</div>
<div class="t l" style="left:431.0px;top:581.3px">9</div>
<div class="t l" style="left:494.5px;top:581.3px">5.1</div>
<div class="t r" style="left:686.4px;top:581.3px">1,400</div>
<div class="t r" style="left:752.4px;top:581.3px">2,740</div>
<div class="t c" style="left:-6.4px;top:606.0px">8</div>
<div class="t r" style="left:31.2px;top:606.0px">62</div>
<div class="t r" style="left:97.4px;top:606.0px">50</div>
<div class="t c" style="left:193.6px;top:606.0px">8</div>
<div class="t r" style="left:230.6px;top:606.0px">51</div>
<div class="t l" style="left:357.6px;top:606.0px">5.5</div>
<div class="t l" style="left:431.0px;top:606.0px">9</div>
<div class="t l" style="left:494.5px;top:606.0px">5.1</div>
<div class="t r" style="left:686.4px;top:606.0px">1,560</div>
<div class="t r" style="left:752.4px;top:606.0px">3,140</div>
<div class="t c" style="left:-6.4px;top:630.7px">10</div>
<div class="t r" style="left:31.2px;top:630.7px">74</div>
<div class="t r" style="left:97.4px;top:630.7px">58</div>
<div class="t c" style="left:193.6px;top:630.7px">10</div>
<div class="t r" style="left:230.6px;top:630.7px">60</div>
<div class="t l" style="left:357.6px;top:630.7px">6.6</div>
<div class="t l" style="left:431.0px;top:630.7px">11</div>
<div class="t l" style="left:494.5px;top:630.7px">6.1</div>
<div class="t r" style="left:686.4px;top:630.7px">2,490</div>
<div class="t r" style="left:752.4px;top:630.7px">5,490</div>
<div class="t c" style="left:-6.4px;top:655.4px">10</div>
<div class="t r" style="left:31.2px;top:655.4px">82</div>
<div class="t r" style="left:97.4px;top:655.4px">64</div>
<div class="t c" style="left:193.6px;top:655.4px">10</div>
<div class="t r" style="left:230.6px;top:655.4px">67</div>
<div class="t l" style="left:357.6px;top:655.4px">6.6</div>
<div class="t l" style="left:431.0px;top:655.4px">11</div>
<div class="t l" style="left:494.5px;top:655.4px">6.1</div>
<div class="t r" style="left:686.4px;top:655.4px">2,650</div>
<div class="t r" style="left:752.4px;top:655.4px">6,270</div>
<div class="t c" style="left:-6.4px;top:680.2px">13</div>
<div class="t r" style="left:31.2px;top:680.2px">96</div>
<div class="t r" style="left:97.4px;top:680.2px">75</div>
<div class="t c" style="left:193.6px;top:680.2px">13</div>
<div class="t r" style="left:230.6px;top:680.2px">78</div>
<div class="t l" style="left:357.6px;top:680.2px">9</div>
<div class="t l" style="left:431.0px;top:680.2px">14</div>
<div class="t l" style="left:494.5px;top:680.2px">8.1</div>
<div class="t r" style="left:686.4px;top:680.2px">3,430</div>
<div class="t r" style="left:752.4px;top:680.2px">8,040</div>
<div class="t c" style="left:-6.4px;top:704.9px">13</div>
<div class="t r" style="left:31.2px;top:704.9px">116</div>
<div class="t r" style="left:97.4px;top:704.9px">92</div>
<div class="t c" style="left:193.6px;top:704.9px">13</div>
<div class="t r" style="left:230.6px;top:704.9px">98</div>
<div class="t l" style="left:357.6px;top:704.9px">9</div>
<div class="t l" style="left:431.0px;top:704.9px">14</div>
<div class="t l" style="left:494.5px;top:704.9px">8.1</div>
<div class="t r" style="left:686.4px;top:704.9px">6,080</div>
<div class="t r" style="left:752.4px;top:704.9px">15,900</div>
<div class="t c" style="left:-6.4px;top:729.6px">18</div>
<div class="t r" style="left:31.2px;top:729.6px">134</div>
<div class="t r" style="left:97.4px;top:729.6px">106</div>
<div class="t c" style="left:193.6px;top:729.6px">18</div>
<div class="t r" style="left:230.6px;top:729.6px">112</div>
<div class="t l" style="left:357.6px;top:729.6px">11</div>
<div class="t l" style="left:431.0px;top:729.6px">17</div>
<div class="t l" style="left:494.5px;top:729.6px">11.1</div>
<div class="t r" style="left:686.4px;top:729.6px">7,550</div>
<div class="t r" style="left:752.4px;top:729.6px">20,000</div>
<div class="t c" style="left:-6.4px;top:754.3px">18</div>
<div class="t r" style="left:31.2px;top:754.3px">164</div>
<div class="t r" style="left:97.4px;top:754.3px">136</div>
<div class="t c" style="left:193.6px;top:754.3px">18</div>
<div class="t r" style="left:230.6px;top:754.3px">142</div>
<div class="t l" style="left:357.6px;top:754.3px">11</div>
<div class="t l" style="left:431.0px;top:754.3px">17</div>
<div class="t l" style="left:494.5px;top:754.3px">11.1</div>
<div class="t r" style="left:686.4px;top:754.3px">11,500</div>
<div class="t r" style="left:752.4px;top:754.3px">32,000</div>
<div class="t c" style="left:538.6px;top:494.8px">15</div>
<div class="t c" style="left:629.2px;top:494.8px">15</div>
<div class="t c" style="left:538.6px;top:606.0px">20</div>
<div class="t c" style="left:629.2px;top:606.0px">20</div>
<div class="t c" style="left:538.6px;top:680.2px">25</div>
<div class="t c" style="left:629.2px;top:680.2px">25</div>
<div class="t c" style="left:538.6px;top:741.9px">30</div>
<div class="t c" style="left:629.2px;top:741.9px">30</div>
</body></html>
